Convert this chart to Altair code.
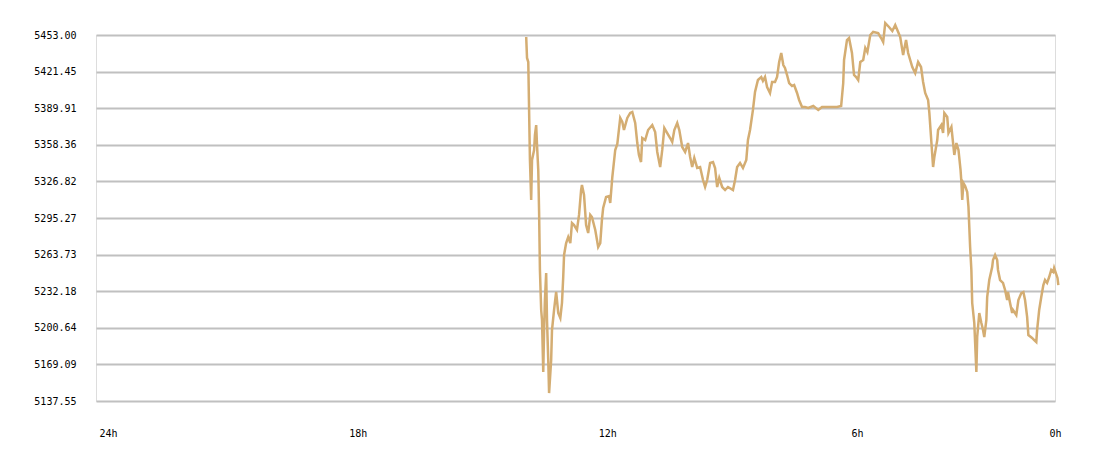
import altair as alt
import pandas as pd

# short excursion above the top of the chart at the start of the series
spike_hours = [14.07, 14.02, 13.98]
spike_prices = [5491.8, 5480.6, 5491.8]

hours = [
    13.95, 13.93, 13.90, 13.86, 13.83, 13.81, 13.76, 13.74, 13.71, 13.69,
    13.66, 13.64, 13.62, 13.59, 13.57, 13.54, 13.52, 13.50, 13.47, 13.45,
    13.42, 13.40, 13.35, 13.33, 13.28, 13.23, 13.18, 13.13, 13.09, 13.06,
    13.04, 12.99, 12.94, 12.89, 12.85, 12.80, 12.73, 12.68, 12.63, 12.61,
    12.56, 12.51, 12.46, 12.41, 12.37, 12.29, 12.22, 12.17, 12.13, 12.10,
    12.03, 11.96, 11.93, 11.88, 11.81, 11.76, 11.69, 11.64, 11.60, 11.52,
    11.45, 11.40, 11.33, 11.28, 11.24, 11.19, 11.16, 11.09, 11.02, 10.92,
    10.85, 10.80, 10.73, 10.68, 10.63, 10.56, 10.49, 10.44, 10.39, 10.32,
    10.27, 10.20, 10.13, 10.06, 10.01, 9.96, 9.91, 9.84, 9.77, 9.70,
    9.65, 9.60, 9.53, 9.46, 9.41, 9.36, 9.31, 9.24, 9.17, 9.10,
    8.98, 8.93, 8.88, 8.81, 8.74, 8.66, 8.62, 8.57, 8.50, 8.45,
    8.38, 8.30, 8.26, 8.21, 8.16, 8.09, 8.04, 7.97, 7.92, 7.87,
    7.82, 7.77, 7.73, 7.68, 7.63, 7.56, 7.51, 7.44, 7.39, 7.32,
    7.25, 7.17, 7.05, 6.93, 6.84, 6.72, 6.60, 6.48, 6.38, 6.33,
    6.31, 6.24, 6.19, 6.12, 6.07, 6.02, 5.97, 5.92, 5.85, 5.80,
    5.75, 5.68, 5.61, 5.49, 5.42, 5.37, 5.32, 5.23, 5.15, 5.08,
    5.01, 4.96, 4.89, 4.82, 4.77, 4.67, 4.60, 4.53, 4.46, 4.41,
    4.36, 4.29, 4.26, 4.21, 4.17, 4.14, 4.07, 4.05, 3.97, 3.93,
    3.90, 3.83, 3.80, 3.73, 3.68, 3.66, 3.61, 3.56, 3.51, 3.49,
    3.47, 3.44, 3.40, 3.35, 3.32, 3.28, 3.25, 3.23, 3.18, 3.13,
    3.11, 3.06, 3.01, 2.97, 2.94, 2.89, 2.87, 2.82, 2.75, 2.73,
    2.68, 2.63, 2.61, 2.56, 2.49, 2.44, 2.39, 2.37, 2.32, 2.27,
    2.25, 2.17, 2.12, 2.05, 2.00, 1.96, 1.91, 1.88, 1.79, 1.74,
    1.69, 1.67, 1.62, 1.57, 1.52, 1.48, 1.43, 1.38, 1.33, 1.28,
    1.26, 1.18, 1.16,
]

prices = [
    5451.3, 5433.2, 5429.7, 5345.3, 5310.8, 5345.3, 5353.9, 5366.8, 5375.4, 5358.2,
    5336.6, 5300.4, 5250.5, 5216.0, 5207.4, 5162.6, 5198.7, 5224.6, 5247.9, 5207.4,
    5172.9, 5144.4, 5172.9, 5198.7, 5216.0, 5231.5, 5213.4, 5209.1, 5222.0, 5244.4,
    5263.4, 5273.7, 5278.9, 5273.7, 5291.0, 5289.2, 5285.0, 5297.9, 5319.4, 5323.7,
    5315.1, 5289.2, 5282.3, 5297.9, 5296.1, 5285.0, 5270.3, 5273.7, 5293.6, 5303.9,
    5313.4, 5314.2, 5308.2, 5330.6, 5353.9, 5359.1, 5381.5, 5378.0, 5371.1, 5381.5,
    5385.8, 5386.6, 5377.2, 5359.9, 5349.6, 5343.5, 5364.2, 5362.5, 5371.1, 5375.4,
    5369.4, 5352.2, 5339.2, 5353.9, 5372.8, 5368.5, 5364.2, 5360.8, 5371.1, 5377.2,
    5371.1, 5356.5, 5352.2, 5359.9, 5347.8, 5339.2, 5347.0, 5338.4, 5339.2, 5328.0,
    5322.0, 5328.0, 5342.7, 5343.5, 5338.4, 5322.0, 5329.8, 5322.0, 5319.4, 5322.0,
    5319.4, 5328.0, 5339.2, 5342.7, 5338.4, 5345.3, 5362.5, 5371.1, 5388.4, 5403.9,
    5414.2, 5416.8, 5413.4, 5416.8, 5408.2, 5403.0, 5412.5, 5412.5, 5416.8, 5429.7,
    5437.5, 5427.1, 5424.6, 5418.5, 5411.6, 5409.0, 5409.9, 5403.0, 5397.0, 5390.9,
    5390.9, 5390.1, 5391.8, 5388.4, 5390.9, 5390.9, 5390.9, 5390.9, 5391.8, 5411.6,
    5431.5, 5448.7, 5450.4, 5437.5, 5418.5, 5416.8, 5414.2, 5429.7, 5431.5, 5441.8,
    5438.3, 5453.0, 5455.6, 5454.7, 5450.4, 5447.0, 5463.3, 5459.9, 5456.4, 5461.6,
    5455.6, 5451.3, 5435.8, 5448.7, 5437.5, 5425.4, 5420.2, 5429.7, 5425.4, 5412.5,
    5403.0, 5397.0, 5385.8, 5359.9, 5339.2, 5347.8, 5362.5, 5371.1, 5375.4, 5368.5,
    5385.8, 5382.3, 5368.5, 5373.7, 5356.5, 5349.6, 5359.9, 5353.9, 5336.6, 5326.3,
    5310.8, 5325.4, 5322.9, 5317.7, 5304.8, 5270.3, 5250.5, 5222.0, 5204.8, 5162.6,
    5192.7, 5213.4, 5204.8, 5198.7, 5192.7, 5207.4, 5227.2, 5241.8, 5253.0, 5259.1,
    5263.4, 5259.1, 5250.5, 5241.8, 5239.3, 5233.2, 5224.6, 5231.5, 5222.0, 5213.4,
    5216.0, 5211.7, 5224.6, 5230.6, 5231.5, 5224.6, 5210.0, 5194.4, 5191.9, 5190.1,
    5188.4, 5198.7, 5216.0, 5227.2, 5237.5, 5241.8, 5239.3, 5244.4, 5250.5, 5248.7,
    5252.2, 5243.6, 5237.5,
]

y_ticks = [5137.55, 5169.09, 5200.64, 5232.18, 5263.73, 5295.27,
           5326.82, 5358.36, 5389.91, 5421.45, 5453.00]
x_ticks = [24, 18, 12, 6, 1.24]

df = pd.DataFrame({
    "h": spike_hours + hours,
    "p": spike_prices + prices,
    "seg": ["a"] * len(spike_hours) + ["b"] * len(hours),
})

font = "DejaVu Sans Mono"

chart = alt.Chart(df).mark_line(
    color="#D4AD72", strokeWidth=2.5, interpolate="linear"
).encode(
    x=alt.X("h:Q",
            scale=alt.Scale(domain=[1.24, 24.29], reverse=True, nice=False, zero=False),
            axis=alt.Axis(values=x_ticks, title=None, grid=False, ticks=False, domain=False,
                          labelExpr="datum.value < 2 ? '0h' : datum.value + 'h'",
                          labelFlush=False, labelOverlap=False, labelPadding=27,
                          labelFont=font, labelFontSize=10, labelColor="#000000")),
    y=alt.Y("p:Q",
            scale=alt.Scale(domain=[5137.55, 5453.0], nice=False, zero=False),
            axis=alt.Axis(values=y_ticks, format=".2f", title=None, ticks=False, domain=False,
                          grid=True, gridColor="#c0c0c0", gridWidth=2, labelPadding=20,
                          labelFont=font, labelFontSize=10, labelColor="#000000")),
    detail="seg:N",
).properties(
    width=959,
    height=366,
    autosize="none",
    padding={"left": 88, "top": 27, "right": 20, "bottom": 40},
).configure_view(stroke=None).configure(background="#ffffff")

chart.save("out.html", embed_options={"renderer": "svg", "actions": False})
